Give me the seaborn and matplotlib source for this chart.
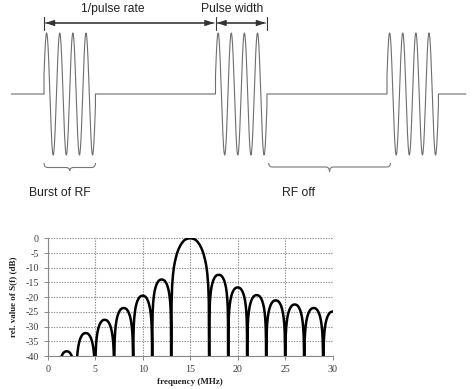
import numpy as np
import pandas as pd
import matplotlib
matplotlib.use("Agg")
import matplotlib.pyplot as plt
import seaborn as sns
from matplotlib.path import Path
from matplotlib.patches import PathPatch

# ---------------- Spectrum data ----------------
lobe_nulls_left = [1, 3, 5, 7, 9, 11, 13, 17, 19, 21, 23, 25, 27, 29]
lobe_widths = [2, 2, 2, 2, 2, 2, 4, 2, 2, 2, 2, 2, 2, 2]
lobe_peaks_db = [-38.4, -32.2, -27.7, -23.7, -19.5, -14.0, 0.0,
                 -12.4, -16.7, -19.3, -21.1, -22.5, -23.7, -24.9]
# lobe shape: position across the lobe (fraction of its width) vs dB below the lobe peak
side_profile_u = [0.0, 0.01, 0.025, 0.05, 0.08, 0.12, 0.17, 0.22, 0.28, 0.34, 0.40, 0.45, 0.5]
side_profile_db = [-45, -16, -11, -8, -6, -4.2, -2.8, -1.8, -1.0, -0.45, -0.15, -0.04, 0]
main_profile_u = [0.0, 0.01, 0.025, 0.05, 0.075, 0.10, 0.15, 0.20, 0.25, 0.30, 0.35, 0.40, 0.45, 0.5]
main_profile_db = [-45, -22, -16, -12, -9.5, -7.8, -5.2, -3.5, -2.2, -1.3, -0.6, -0.25, -0.06, 0]

x_ticks = [0, 5, 10, 15, 20, 25, 30]
y_ticks = [0, -5, -10, -15, -20, -25, -30, -35, -40]
y_tick_labels = ["0", "-5", "-10", "-15", "-20", "-25", "-30", "-35", "-40"]
x_label = "frequency (MHz)"
y_label = "rel. value of S(f) (dB)"

# ---------------- Pulse diagram data ----------------
pulse_period = 1.0          # 1/pulse rate
pulse_width = 0.3
n_bursts = 3
cycles_per_burst = 3.92
carrier_start_phase = 0.2   # cycles
trace_start, trace_end = -0.19, 2.46
labels_top = ["1/pulse rate", "Pulse width"]
labels_bottom = ["Burst of RF", "RF off"]

# ---------------- Build series ----------------
f_pts, db_pts = [], []
for n0, w, pk in zip(lobe_nulls_left, lobe_widths, lobe_peaks_db):
    pu, pd_ = (main_profile_u, main_profile_db) if w == 4 else (side_profile_u, side_profile_db)
    u = list(pu) + [1 - v for v in reversed(pu[:-1])]
    d = list(pd_) + list(reversed(pd_[:-1]))
    f_pts += [n0 + ui * w for ui in u]
    db_pts += [pk + di for di in d]
spec = pd.DataFrame({"f": f_pts, "db": db_pts})

t_pts, s_pts = [trace_start], [0.0]
for k in range(n_bursts):
    b = k * pulse_period
    t_pts.append(b); s_pts.append(0.0)
    tt = np.linspace(0, pulse_width, 400)
    t_pts += list(b + tt)
    s_pts += list(np.cos(2 * np.pi * (cycles_per_burst * tt / pulse_width - carrier_start_phase)))
    t_pts.append(b + pulse_width); s_pts.append(0.0)
t_pts.append(trace_end); s_pts.append(0.0)
wave = pd.DataFrame({"t": t_pts, "s": s_pts})

# ---------------- Figure ----------------
sns.set_theme(style="white")
plt.rcParams["axes.unicode_minus"] = False
W, H = 474, 389
fig = plt.figure(figsize=(W / 100, H / 100), dpi=100)
fig.patch.set_facecolor("white")

# top diagram axes (invisible frame)
axt = fig.add_axes([0, 1 - 200 / H, 1, 200 / H])
px_per_t = 171.5
x0px = 44
axt.set_xlim(-x0px / px_per_t, (W - x0px) / px_per_t)
axt.set_ylim((94 - 200) / 61, 94 / 61)
axt.axis("off")

sns.lineplot(data=wave, x="t", y="s", sort=False, estimator=None, ax=axt,
             color="#6e6e6e", linewidth=0.8)

acol = "#333333"
ya = 1.164
for (xa, xb) in [(0, pulse_period), (pulse_period, pulse_period + pulse_width)]:
    for (p, q) in [(xa, xb), (xb, xa)]:
        axt.annotate("", xy=(q, ya), xytext=(p, ya),
                     arrowprops=dict(arrowstyle="-|>,head_length=0.45,head_width=0.15",
                                     color=acol, lw=0.8, shrinkA=1, shrinkB=1))
for xt in [0, pulse_period, pulse_period + pulse_width]:
    axt.plot([xt, xt], [1.049, 1.27], color=acol, lw=0.8)

tfont = dict(family=["Liberation Sans", "DejaVu Sans"], size=8.7, color="#222222")
axt.text(0.40, 1.39, labels_top[0], ha="center", va="center", **tfont)
axt.text(1.096, 1.39, labels_top[1], ha="center", va="center", **tfont)
axt.text(0.095, -1.623, labels_bottom[0], ha="center", va="center", **tfont)
axt.text(1.483, -1.623, labels_bottom[1], ha="center", va="center", **tfont)


def brace(ax, xa, xb, y_end, y_mid, y_tip, dx=0.022):
    xc = (xa + xb) / 2
    verts = [(xa, y_end), (xa, y_mid), (xa + dx, y_mid),
             (xc - dx, y_mid), (xc, y_mid), (xc, y_tip),
             (xc, y_mid), (xc + dx, y_mid),
             (xb - dx, y_mid), (xb, y_mid), (xb, y_end)]
    codes = [Path.MOVETO, Path.CURVE3, Path.CURVE3,
             Path.LINETO, Path.CURVE3, Path.CURVE3,
             Path.CURVE3, Path.CURVE3,
             Path.LINETO, Path.CURVE3, Path.CURVE3]
    ax.add_patch(PathPatch(Path(verts, codes), fill=False, edgecolor="#777777", lw=0.8))


brace(axt, 0.0, pulse_width, (94 - 163) / 61, (94 - 167.5) / 61, (94 - 171) / 61)
brace(axt, pulse_period + pulse_width + 0.01, 2 * pulse_period + 0.02,
      (94 - 163) / 61, (94 - 167) / 61, (94 - 172) / 61)

# spectrum axes
L, R, T, B = 47.7, 332.7, 238.3, 356.0
ax = fig.add_axes([L / W, 1 - B / H, (R - L) / W, (B - T) / H])
sns.lineplot(data=spec, x="f", y="db", sort=False, estimator=None, ax=ax,
             color="black", linewidth=1.8)
ax.set_xlim(0, 30)
ax.set_ylim(-40, 0)
ax.set_xticks(x_ticks)
ax.set_yticks(y_ticks)
ax.set_yticklabels(y_tick_labels)
ax.grid(True, color="#8c8c8c", linestyle=(0, (1.2, 1.2)), linewidth=0.8)
ax.set_axisbelow(True)
for s in ["top", "right"]:
    ax.spines[s].set_visible(False)
for s in ["left", "bottom"]:
    ax.spines[s].set_color("#888888")
    ax.spines[s].set_linewidth(0.8)
ax.tick_params(axis="both", which="major", length=3, width=0.7, color="#888888",
               labelsize=7.2, labelcolor="#3a3a3a", pad=3.5, left=True, bottom=True)
serif = ["Liberation Serif", "DejaVu Serif"]
for lab in ax.get_xticklabels() + ax.get_yticklabels():
    lab.set_family(serif)
ax.set_xlabel(x_label, family=serif, fontsize=6.5, fontweight="bold", labelpad=3, color="#222222")
ax.set_ylabel(y_label, family=serif, fontsize=6.5, fontweight="bold", labelpad=6, color="#222222")

fig.savefig("out.png", dpi=100, facecolor="white")
